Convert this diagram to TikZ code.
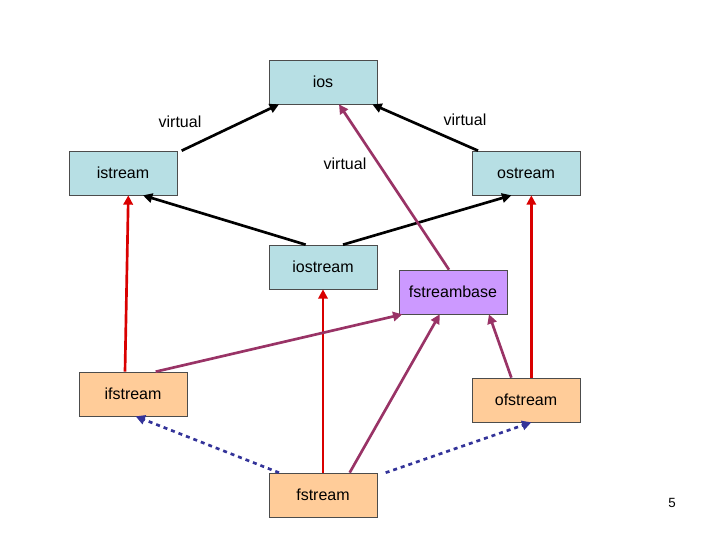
\documentclass[tikz,border=0pt]{standalone}
\usepackage{fontspec}
\setmainfont{Liberation Sans}
\usetikzlibrary{calc, arrows.meta}
\definecolor{boxblue}{RGB}{183, 223, 228}
\definecolor{boxorange}{RGB}{255, 204, 153}
\definecolor{boxpurple}{RGB}{204, 153, 255}
\definecolor{inherit}{RGB}{153, 51, 102}
\definecolor{dashblue}{RGB}{51, 51, 153}
\tikzset{
  cls/.style={draw=black!70, line width=0.5pt, minimum width=81pt, minimum height=33pt,
              inner sep=0pt, font=\fontsize{12}{14}\selectfont},
  arr/.style={line width=2pt, -{Triangle[length=7pt, width=7pt]}},
}
\begin{document}
\begin{tikzpicture}[x=0.75pt, y=-0.75pt]

  \useasboundingbox (0, 0) rectangle (720, 540);

  \node[cls, fill=boxblue] (ios) at (323, 82) {ios};
  \node[cls, fill=boxblue] (istream) at (123, 173) {istream};
  \node[cls, fill=boxblue] (ostream) at (526, 173) {ostream};
  \node[cls, fill=boxblue] (iostream) at (323, 267) {iostream};
  \node[cls, fill=boxpurple] (fbase) at (453, 292) {fstreambase};
  \node[cls, fill=boxorange] (ifstream) at (133, 394) {ifstream};
  \node[cls, fill=boxorange] (ofstream) at (526, 400) {ofstream};
  \node[cls, fill=boxorange] (fstream) at (323, 495) {fstream};

  \node[font=\fontsize{12}{14}\selectfont] (v1) at (180, 122) {virtual};
  \node[font=\fontsize{12}{14}\selectfont] (v2) at (465, 120) {virtual};
  \node[font=\fontsize{12}{14}\selectfont] (v3) at (345, 164) {virtual};
  \node[font=\fontsize{10}{12}\selectfont] (page) at (672, 503) {5};

  % virtual bases
  \draw[arr, black] ([xshift=44]istream.north) -- ([xshift=-33]ios.south);
  \draw[arr, black] ([xshift=-36]ostream.north) -- ([xshift=37]ios.south);
  \draw[arr, black] ([xshift=-13]iostream.north) -- ([xshift=15]istream.south);
  \draw[arr, black] ([xshift=15]iostream.north) -- ([xshift=-11]ostream.south);

  % plain inheritance
  \draw[arr, red!85!black] ([xshift=-6]ifstream.north) -- ([xshift=4]istream.south);
  \draw[arr, red!85!black] (fstream.north) -- (iostream.south);
  \draw[arr, red!85!black] ([xshift=4]ofstream.north) -- ([xshift=4]ostream.south);

  \draw[arr, inherit] ([xshift=-3]fbase.north) -- ([xshift=12]ios.south);
  \draw[arr, inherit] ([xshift=17]ifstream.north) -- ([xshift=-38]fbase.south);
  \draw[arr, inherit] ([xshift=20]fstream.north) -- ([xshift=-10]fbase.south);
  \draw[arr, inherit] ([xshift=-11]ofstream.north) -- ([xshift=27]fbase.south);

  \draw[arr, dashblue, dashed] ([xshift=-33]fstream.north) -- ([xshift=2]ifstream.south);
  \draw[arr, dashblue, dashed] ([xshift=47]fstream.north) -- ([xshift=4]ofstream.south);

\end{tikzpicture}
\end{document}
